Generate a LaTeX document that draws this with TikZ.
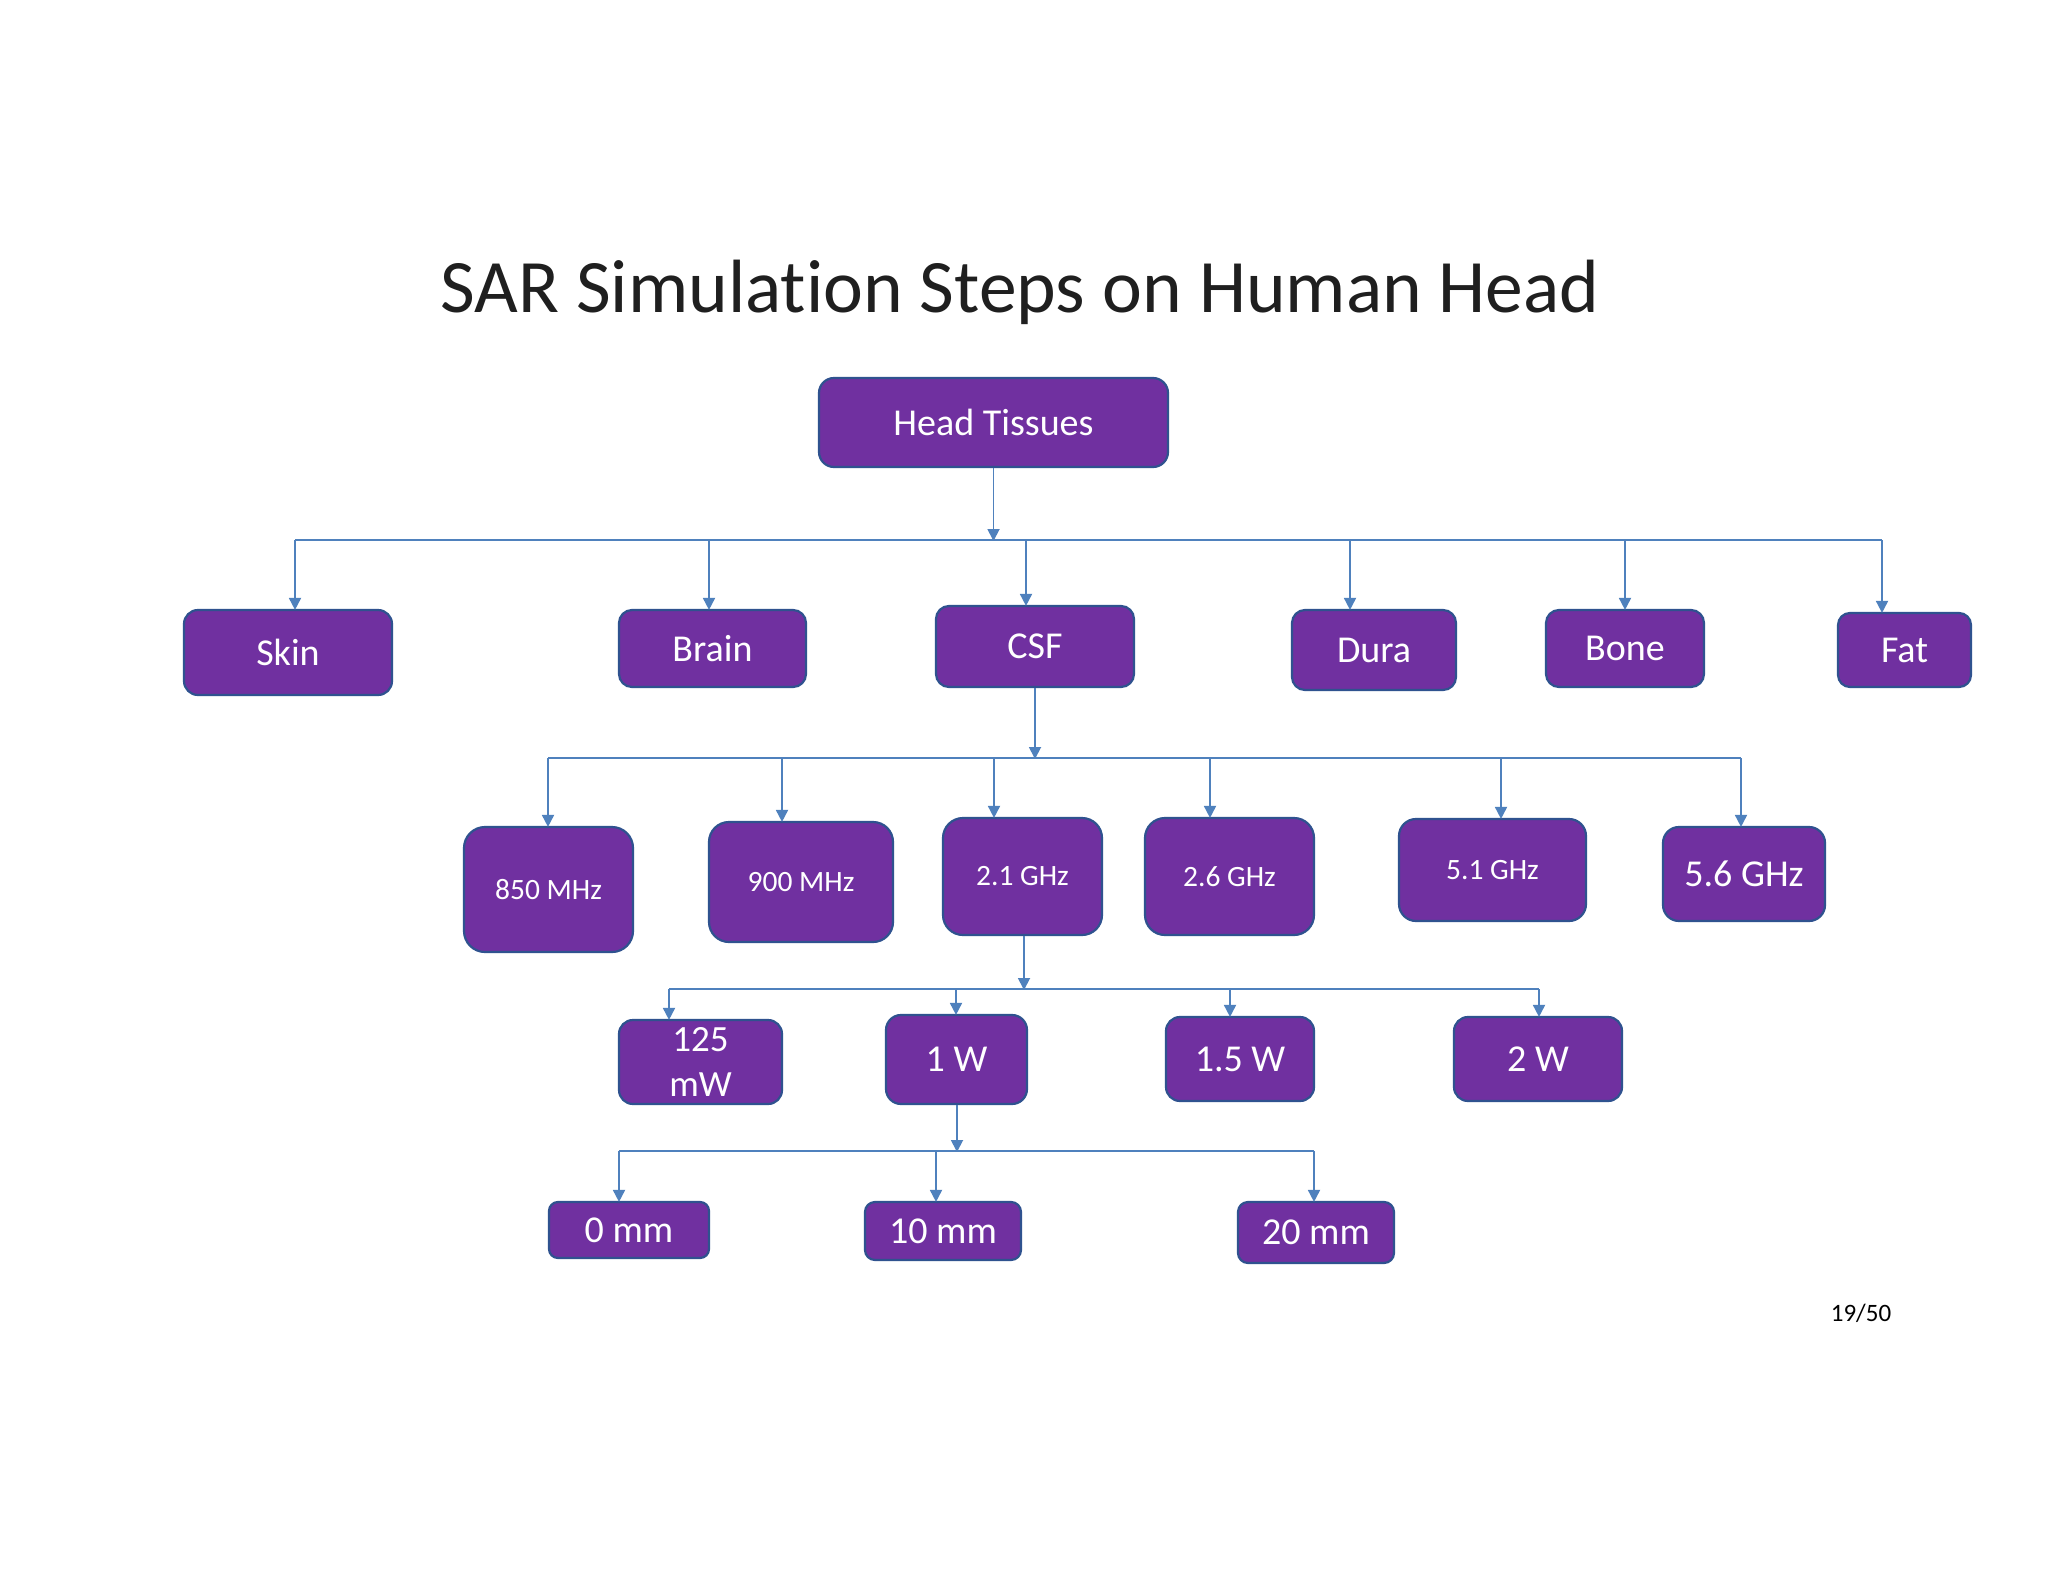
\documentclass[tikz,border=0pt]{standalone}
\usepackage{fontspec}
\setmainfont{Carlito}[Ligatures=NoCommon]
\usetikzlibrary{arrows.meta}
\definecolor{boxfill}{HTML}{7030A0}
\definecolor{boxline}{HTML}{2F528F}
\definecolor{conncol}{HTML}{4F81BD}
\begin{document}
\begin{tikzpicture}[x=1pt,y=-1pt,
  tbox/.style n args={3}{draw=boxline, line width=2.2pt, fill=boxfill, text=white,
    minimum width=#1, minimum height=#2, rounded corners=#3, inner sep=0pt, align=center},
  fbig/.style={font=\fontsize{38}{45}\selectfont},
  fsmall/.style={font=\fontsize{29.5}{35}\selectfont},
  conn/.style={draw=conncol, line width=1.8pt},
  arr/.style={conn, -{Triangle[width=12pt,length=12pt]}, shorten >=-1pt}]
\useasboundingbox (0,0) rectangle (2048,1582);
\fill[white] (0,0) rectangle (2048,1582);

% title
\node[font=\fontsize{75.5}{85}\selectfont, text=black!88] (title) at (1020,292) {SAR Simulation Steps on Human Head};

% root
\node[tbox={349}{89}{15}, fbig] (head) at (993.5,422.5) {Head Tissues};

% row 1
\node[tbox={208}{85}{14}, fbig] (skin) at (288,652.5) {Skin};
\node[tbox={187}{77}{13}, fbig] (brain) at (712.5,648.5) {Brain};
\node[tbox={198}{81}{13}, fbig] (csf) at (1035,646.5) {CSF};
\node[tbox={164}{80}{13}, fbig] (dura) at (1374,650) {Dura};
\node[tbox={158}{77}{13}, fbig] (bone) at (1625,648.5) {Bone};
\node[tbox={133}{74}{12}, fbig] (fat) at (1904.5,650) {Fat};

% row 2
\node[tbox={169}{125}{21}, fsmall] (f850) at (548.5,889.5) {850 MHz};
\node[tbox={184}{120}{20}, fsmall] (f900) at (801,882) {900 MHz};
\node[tbox={159}{117}{20}, fsmall] (f21) at (1022.5,876.5) {2.1 GHz};
\node[tbox={169}{117}{20}, fsmall] (f26) at (1229.5,876.5) {2.6 GHz};
\node[tbox={187}{102}{17}, fsmall] (f51) at (1492.5,870) {5.1 GHz};
\node[tbox={162}{94}{16}, fbig] (f56) at (1744,874) {5.6 GHz};

% row 3
\node[tbox={163}{84}{14}, font=\fontsize{37}{45}\selectfont] (p125) at (700.5,1062) {125\\mW};
\node[tbox={141}{89}{15}, fbig] (p1) at (956.5,1059.5) {1 W};
\node[tbox={148}{84}{14}, fbig] (p15) at (1240,1059) {1.5 W};
\node[tbox={168}{84}{14}, fbig] (p2) at (1538,1059) {2 W};

% row 4
\node[tbox={160}{56}{9}, fbig] (d0) at (629,1230) {0 mm};
\node[tbox={156}{58}{10}, fbig] (d10) at (943,1231) {10 mm};
\node[tbox={156}{61}{10}, fbig] (d20) at (1316,1232.5) {20 mm};

% page number
\node[font=\fontsize{25}{30}\selectfont, text=black] (pg) at (1861,1313) {19/50};

% ---- bus 1
\coordinate (b1) at (993.5,540);
\coordinate (b1a) at (295,540);
\coordinate (b1b) at (709,540);
\coordinate (b1c) at (1026,540);
\coordinate (b1d) at (1350,540);
\coordinate (b1e) at (1625,540);
\coordinate (b1f) at (1882,540);
\draw[conn] (b1a) -- (b1f);
\draw[arr] (head) -- (b1);
\draw[arr] (b1a) -- (b1a |- skin.north);
\draw[arr] (b1b) -- (b1b |- brain.north);
\draw[arr] (b1c) -- (b1c |- csf.north);
\draw[arr] (b1d) -- (b1d |- dura.north);
\draw[arr] (b1e) -- (b1e |- bone.north);
\draw[arr] (b1f) -- (b1f |- fat.north);

% ---- bus 2
\coordinate (b2) at (1035,758);
\coordinate (b2a) at (548,758);
\coordinate (b2b) at (782,758);
\coordinate (b2c) at (994,758);
\coordinate (b2d) at (1210,758);
\coordinate (b2e) at (1501,758);
\coordinate (b2f) at (1741,758);
\draw[conn] (b2a) -- (b2f);
\draw[arr] (csf) -- (b2);
\draw[arr] (b2a) -- (b2a |- f850.north);
\draw[arr] (b2b) -- (b2b |- f900.north);
\draw[arr] (b2c) -- (b2c |- f21.north);
\draw[arr] (b2d) -- (b2d |- f26.north);
\draw[arr] (b2e) -- (b2e |- f51.north);
\draw[arr] (b2f) -- (b2f |- f56.north);

% ---- bus 3
\coordinate (b3) at (1024,989);
\coordinate (b3a) at (669,989);
\coordinate (b3b) at (956,989);
\coordinate (b3c) at (1230,989);
\coordinate (b3d) at (1539,989);
\draw[conn] (b3a) -- (b3d);
\draw[arr] (f21.south -| b3) -- (b3);
\draw[arr] (b3a) -- (b3a |- p125.north);
\draw[arr] (b3b) -- (b3b |- p1.north);
\draw[arr] (b3c) -- (b3c |- p15.north);
\draw[arr] (b3d) -- (b3d |- p2.north);

% ---- bus 4
\coordinate (b4) at (957,1151);
\coordinate (b4a) at (619,1151);
\coordinate (b4b) at (936,1151);
\coordinate (b4c) at (1314,1151);
\draw[conn] (b4a) -- (b4c);
\draw[arr] (p1.south -| b4) -- (b4);
\draw[arr] (b4a) -- (b4a |- d0.north);
\draw[arr] (b4b) -- (b4b |- d10.north);
\draw[arr] (b4c) -- (b4c |- d20.north);
\end{tikzpicture}
\end{document}
